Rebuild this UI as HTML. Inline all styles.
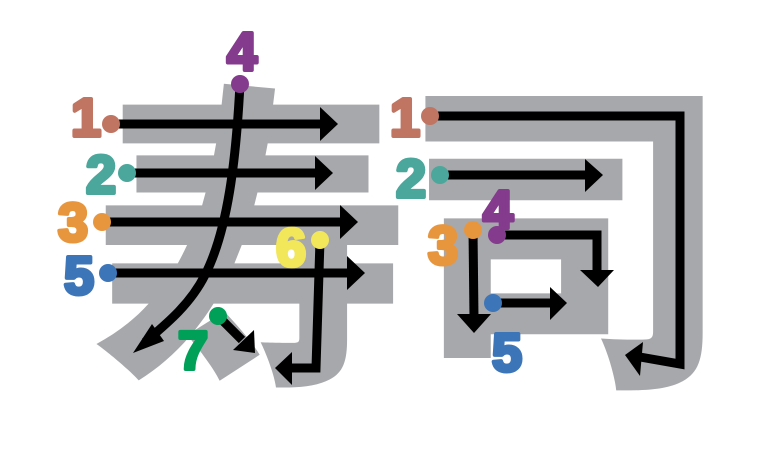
<!DOCTYPE html>
<html><head><meta charset="utf-8"><style>
html,body{margin:0;padding:0;background:#fff;}
body{width:784px;height:434px;position:relative;overflow:hidden;}
.k{position:absolute;font-family:"Noto Sans CJK JP","Noto Sans CJK SC",sans-serif;font-weight:900;color:#a7a8ab;line-height:1;}
svg{position:absolute;left:0;top:0;}
</style></head><body>
<div class="k" style="left:92px;top:60px;font-size:320px;">寿</div>
<div class="k" style="left:401px;top:51px;font-size:330px;">司</div>
<svg width="784" height="434" viewBox="0 0 784 434">
<g stroke="#000" stroke-width="9" fill="none" stroke-linejoin="miter">
<line x1="111" y1="124" x2="322" y2="124"/>
<line x1="127" y1="173" x2="318" y2="173"/>
<line x1="102" y1="222" x2="343" y2="222"/>
<line x1="108" y1="273" x2="350" y2="273"/>
<path d="M240 84 C236 160 228 230 205 275 C190 305 165 325 145 342"/>
<polyline points="320,240 316,368 290,368"/>
<line x1="218" y1="316" x2="242" y2="340"/>
<polyline points="430,116 680,116 680,364 640,357"/>
<line x1="440" y1="175" x2="588" y2="175"/>
<line x1="473" y1="230" x2="474" y2="318"/>
<polyline points="497,235 597,235 597,272"/>
<line x1="493" y1="303" x2="552" y2="303"/>
</g>
<g fill="#000">
<polygon points="338,124 320,107 320,141"/>
<polygon points="333,173 315,156 315,190"/>
<polygon points="358,222 340,205 340,239"/>
<polygon points="365,273 347,256 347,290"/>
<polygon points="133,353 152,324 164,341"/>
<polygon points="275,368 292,352 292,385"/>
<polygon points="255,353 254,330 233,350"/>
<polygon points="625,355 643,342 640,376"/>
<polygon points="603,175 585,159 585,192"/>
<polygon points="474,333 457,314 491,314"/>
<polygon points="598,287 580,270 614,270"/>
<polygon points="567,303 550,287 550,320"/>
</g>
<g font-family="Liberation Sans, sans-serif" font-weight="bold" font-size="54" text-anchor="middle" stroke-width="4" stroke-linejoin="round">
<circle cx="111" cy="124" r="9" fill="#c07462"/><text x="86" y="136" fill="#c07462" stroke="#c07462">1</text>
<circle cx="127" cy="173" r="9" fill="#4ba79b"/><text x="101" y="193" fill="#4ba79b" stroke="#4ba79b">2</text>
<circle cx="102" cy="222" r="9" fill="#e8963e"/><text x="73" y="241" fill="#e8963e" stroke="#e8963e">3</text>
<circle cx="108" cy="273" r="9" fill="#3c75b8"/><text x="79" y="294" fill="#3c75b8" stroke="#3c75b8">5</text>
<circle cx="240" cy="84" r="9" fill="#843a8d"/><text x="242" y="70" fill="#843a8d" stroke="#843a8d">4</text>
<circle cx="320" cy="240" r="9" fill="#f2e75a"/><text x="291" y="266" fill="#f2e75a" stroke="#f2e75a">6</text>
<circle cx="218" cy="316" r="9" fill="#00a058"/><text x="193" y="369" fill="#00a058" stroke="#00a058">7</text>
<circle cx="430" cy="116" r="9" fill="#c07462"/><text x="405" y="136" fill="#c07462" stroke="#c07462">1</text>
<circle cx="440" cy="175" r="9" fill="#4ba79b"/><text x="411" y="197" fill="#4ba79b" stroke="#4ba79b">2</text>
<circle cx="473" cy="230" r="9" fill="#e8963e"/><text x="443" y="264" fill="#e8963e" stroke="#e8963e">3</text>
<circle cx="497" cy="235" r="9" fill="#843a8d"/><text x="498" y="228" fill="#843a8d" stroke="#843a8d">4</text>
<circle cx="493" cy="303" r="9" fill="#3c75b8"/><text x="507" y="371" fill="#3c75b8" stroke="#3c75b8">5</text>
</g>
</svg>
</body></html>
